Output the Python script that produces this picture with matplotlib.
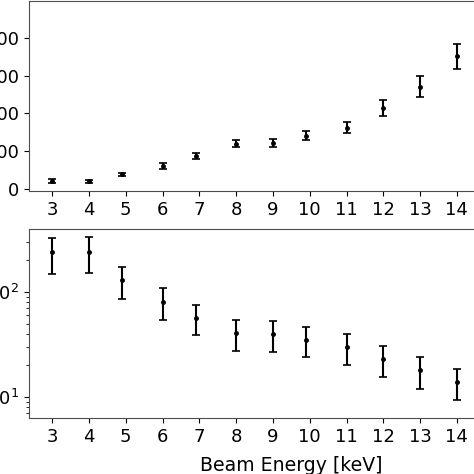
import numpy as np
import matplotlib
matplotlib.use("Agg")
import matplotlib.pyplot as plt

# beam energies (some points sit slightly left of the integer)
energy = [3, 4, 4.9, 6, 6.9, 8, 9, 9.9, 11, 12, 13, 14]

# top panel (linear)
top_val = [20, 20, 38, 60, 86, 119, 121, 141, 162, 214, 271, 351]
top_err = [5, 4, 5, 8, 8, 9, 10, 11, 15, 21, 28, 33]

# bottom panel (log)
bot_val = [239, 242, 130, 81, 57, 41, 40, 35, 30, 23, 18, 14]
bot_err = [90, 90, 44, 27, 18.5, 13.5, 13, 11.2, 9.8, 7.5, 6, 4.6]

xticks = list(range(3, 15))

plt.rcParams['font.size'] = 13
plt.rcParams['axes.edgecolor'] = '0.3'

fig = plt.figure(figsize=(4.74, 4.74), dpi=100)
W = H = 474.0

def axpos(left, top, right, bottom):
    return [left / W, 1 - bottom / H, (right - left) / W, (bottom - top) / H]

ax1 = fig.add_axes(axpos(29, 0.5, 479, 191))
ax2 = fig.add_axes(axpos(29, 229, 479, 418))

ekw = dict(fmt='o', color='black', markersize=2.5, elinewidth=1.5,
           capsize=3, capthick=1.2)

ax1.errorbar(energy, top_val, yerr=top_err, **ekw)
ax1.set_ylim(-6, 499)
ax1.set_yticks([0, 100, 200, 300, 400])

ax2.errorbar(energy, bot_val, yerr=bot_err, **ekw)
ax2.set_yscale('log')
ax2.set_ylim(6.3, 398)

for ax in (ax1, ax2):
    ax.set_xlim(2.37, 14.6)
    ax.set_xticks(xticks)

ax2.set_xlabel('Beam Energy [keV]', fontsize=13.6)
ax2.xaxis.set_label_coords((291 - 29) / 450.0, -0.2)

plt.savefig('out.png', dpi=100)
